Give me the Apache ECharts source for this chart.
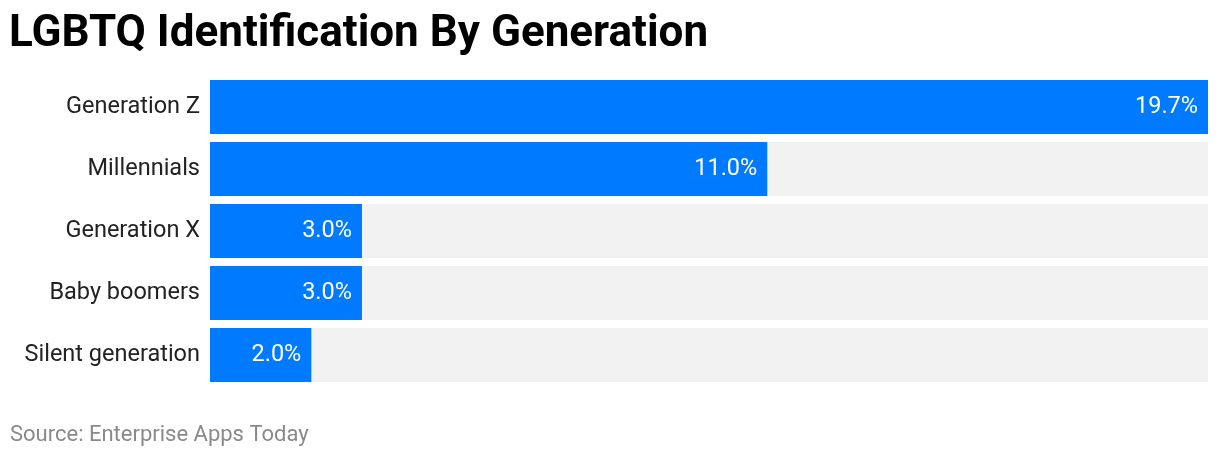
<!DOCTYPE html>
<html><head><meta charset="utf-8">
<script src="https://cdn.jsdelivr.net/npm/echarts@6/dist/echarts.min.js"></script>
<style>html,body{margin:0;padding:0;background:#fff}#c{width:1220px;height:458px}</style>
</head><body><div id="c"></div>
<script>
const categories = ['Generation Z', 'Millennials', 'Generation X', 'Baby boomers', 'Silent generation'];
const values = [19.7, 11.0, 3.0, 3.0, 2.0];
const titleText = 'LGBTQ Identification By Generation';
const sourceText = 'Source: Enterprise Apps Today';

const chart = echarts.init(document.getElementById('c'));
chart.setOption({
  animation: false,
  title: [
    { text: titleText, left: 9, top: 13, padding: 0,
      textStyle: { fontFamily: 'Roboto', fontWeight: 'bold', fontSize: 44, color: '#000' } },
    { text: sourceText, left: 10, top: 424, padding: 0,
      textStyle: { fontFamily: 'Roboto', fontWeight: 'normal', fontSize: 22, color: '#8a8a8a' } }
  ],
  grid: { left: 210, right: 12, top: 76, height: 310, containLabel: false },
  xAxis: { type: 'value', min: 0, max: 19.7, show: false },
  yAxis: {
    type: 'category', data: categories, inverse: true,
    axisLine: { show: false }, axisTick: { show: false },
    axisLabel: { fontFamily: 'Roboto', fontSize: 23.5, color: '#222', margin: 10 }
  },
  series: [{
    type: 'bar', data: values, barWidth: 54,
    itemStyle: { color: '#007bff' },
    showBackground: true,
    backgroundStyle: { color: '#f2f2f2' },
    label: { show: true, position: 'insideRight', distance: 10,
      formatter: p => p.value.toFixed(1) + '%',
      fontFamily: 'Roboto', fontSize: 23.5, color: '#fff' }
  }]
});
</script></body></html>
